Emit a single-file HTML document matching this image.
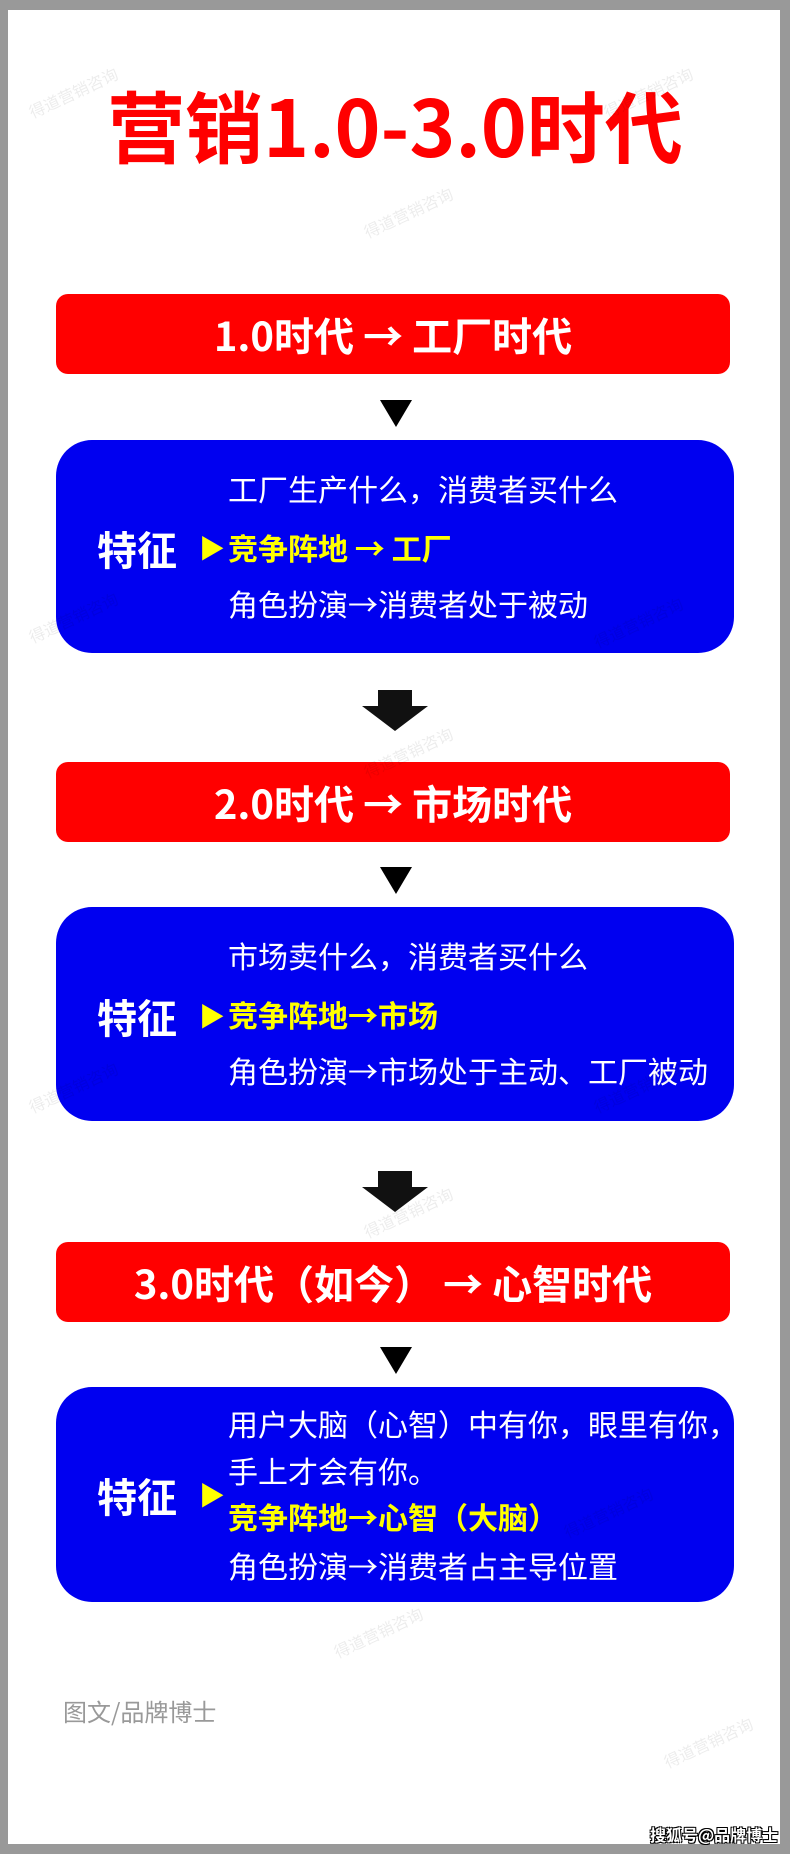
<!DOCTYPE html>
<html><head><meta charset="utf-8"><style>
*{margin:0;padding:0;box-sizing:border-box}
body{width:790px;height:1854px;background:#999;position:relative;overflow:hidden;font-family:"Noto Sans CJK SC","Liberation Sans",sans-serif}
.page{position:absolute;left:8px;top:10px;width:772px;height:1834px;background:#fff}
.a{position:absolute}
.red{position:absolute;left:56px;width:674px;height:80px;background:#f00;border-radius:12px;color:#fff;font-weight:bold;font-size:40px;text-align:center;line-height:80px;white-space:nowrap}
.blue{position:absolute;left:56px;width:678px;background:#0000f0;border-radius:36px;color:#fff}
.tri{position:absolute;left:380px;width:0;height:0;border-left:16px solid transparent;border-right:16px solid transparent;border-top:27px solid #000}
.big{position:absolute;left:362px;width:66px;height:41px}
.t{position:absolute;left:172px;font-size:30px;white-space:nowrap;line-height:36px}
.y{color:#ff0;font-weight:bold;font-size:30px}
.f{position:absolute;left:41px;font-size:40px;font-weight:bold;line-height:40px}
.p{position:absolute;left:143px;color:#ff0;font-size:26px;line-height:30px}
.wm{position:absolute;color:#000;opacity:.07;font-size:16px;transform:rotate(-25deg);white-space:nowrap}
</style></head><body>
<div class="page"></div>
<div class="a" style="left:0;top:79px;width:790px;text-align:center;color:#f00;font-weight:bold;font-size:78px;line-height:90px;white-space:nowrap">营销1.0-3.0时代</div>

<div class="red" style="top:294px">1.0时代 → 工厂时代</div>
<div class="tri" style="top:400px"></div>
<div class="blue" style="top:440px;height:213px">
  <div class="t" style="top:30px">工厂生产什么，消费者买什么</div>
  <div class="f" style="top:88px">特征</div><div class="p" style="top:93px">▶</div>
  <div class="t y" style="top:89px">竞争阵地 → 工厂</div>
  <div class="t" style="top:145px">角色扮演→消费者处于被动</div>
</div>
<svg class="big" style="top:690px" viewBox="0 0 66 41"><path d="M16 0H50V16H66L33 41L0 16H16Z" fill="#111"/></svg>

<div class="red" style="top:762px">2.0时代 → 市场时代</div>
<div class="tri" style="top:867px"></div>
<div class="blue" style="top:907px;height:214px">
  <div class="t" style="top:30px">市场卖什么，消费者买什么</div>
  <div class="f" style="top:89px">特征</div><div class="p" style="top:94px">▶</div>
  <div class="t y" style="top:89px">竞争阵地→市场</div>
  <div class="t" style="top:145px">角色扮演→市场处于主动、工厂被动</div>
</div>
<svg class="big" style="top:1171px" viewBox="0 0 66 41"><path d="M16 0H50V16H66L33 41L0 16H16Z" fill="#111"/></svg>

<div class="red" style="top:1242px">3.0时代（如今） → 心智时代</div>
<div class="tri" style="top:1347px"></div>
<div class="blue" style="top:1387px;height:215px">
  <div class="t" style="top:18px">用户大脑（心智）中有你，眼里有你，</div>
  <div class="t" style="top:65px">手上才会有你。</div>
  <div class="f" style="top:88px">特征</div><div class="p" style="top:93px">▶</div>
  <div class="t y" style="top:111px">竞争阵地→心智（大脑）</div>
  <div class="t" style="top:160px">角色扮演→消费者占主导位置</div>
</div>

<div class="a" style="left:63px;top:1695px;color:#999;font-size:24px;line-height:32px">图文/品牌博士</div>
<div class="a" style="left:650px;top:1823px;color:#fff;font-size:16px;line-height:22px;font-weight:bold;text-shadow:1px 1px 0 #000,-1px -1px 0 #000,1px -1px 0 #000,-1px 1px 0 #000">搜狐号@品牌博士</div>

<div class="wm" style="left:25px;top:80px">得道营销咨询</div>
<div class="wm" style="left:600px;top:80px">得道营销咨询</div>
<div class="wm" style="left:360px;top:200px">得道营销咨询</div>
<div class="wm" style="left:25px;top:605px">得道营销咨询</div>
<div class="wm" style="left:590px;top:610px">得道营销咨询</div>
<div class="wm" style="left:360px;top:740px">得道营销咨询</div>
<div class="wm" style="left:25px;top:1075px">得道营销咨询</div>
<div class="wm" style="left:590px;top:1075px">得道营销咨询</div>
<div class="wm" style="left:360px;top:1200px">得道营销咨询</div>
<div class="wm" style="left:560px;top:1500px">得道营销咨询</div>
<div class="wm" style="left:330px;top:1620px">得道营销咨询</div>
<div class="wm" style="left:660px;top:1730px">得道营销咨询</div>
</body></html>
